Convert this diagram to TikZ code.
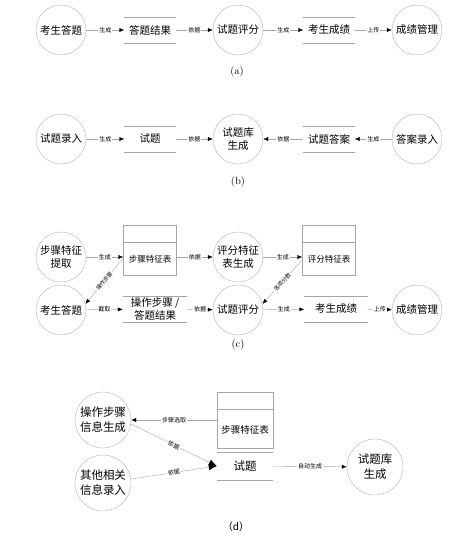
\documentclass[tikz,border=0pt]{standalone}
\usepackage{fontspec}
\newfontfamily\cjk{Noto Sans CJK SC}
\usepackage{tikz}
\usetikzlibrary{arrows.meta}

\begin{document}
\begin{tikzpicture}[x=1pt,y=-1pt]
\tikzset{proc/.style = {shape=circle,draw=gray!60,minimum size=50pt,inner sep=0pt,align=center,
  font=\cjk\fontsize{10.5}{13.5}\selectfont}}
\tikzset{bigproc/.style = {proc,minimum size=56pt,font=\cjk\fontsize{11.5}{15}\selectfont}}
\tikzset{store/.style = {minimum width=51pt,minimum height=26pt,inner sep=0pt,align=center,
  font=\cjk\fontsize{10.5}{13.5}\selectfont,
  append after command={(\tikzlastnode.north west) edge[draw=gray!70] (\tikzlastnode.north east)
    (\tikzlastnode.south west) edge[draw=gray!70] (\tikzlastnode.south east)}}}
\tikzset{tabbox/.style = {shape=rectangle,draw=gray!70,minimum width=53pt,minimum height=50pt,inner sep=0pt}}
\tikzset{tabtext/.style = {font=\cjk\fontsize{8.5}{10}\selectfont}}
\tikzset{edge/.style = {draw=gray!70,-{Latex[black,length=5pt,width=4pt]}}}
\tikzset{bigedge/.style = {draw=gray!70,-{Latex[black,length=8pt,width=6pt]}}}
\tikzset{lbl/.style = {fill=white,inner sep=0.8pt,font=\cjk\fontsize{6}{7}\selectfont}}
\tikzset{caption/.style = {font=\fontsize{10.5}{12}\selectfont}}
\useasboundingbox (0,0) rectangle (474,539);

% (a)
\node[proc] (a1) at (61,30) {考生答题};
\node[store] (a2) at (150,30) {答题结果};
\node[proc] (a3) at (238,30) {试题评分};
\node[store] (a4) at (329,30) {考生成绩};
\node[proc] (a5) at (417,30) {成绩管理};
\node[caption] (ca) at (237,72) {(a)};

\draw[edge] (a1) -- node[lbl] {生成} (a2);
\draw[edge] (a2) -- node[lbl] {依据} (a3);
\draw[edge] (a3) -- node[lbl] {生成} (a4);
\draw[edge] (a4) -- node[lbl] {上传} (a5);

% (b)
\node[proc] (b1) at (61,139) {试题录入};
\node[store] (b2) at (150,139) {试题};
\node[proc] (b3) at (238,139) {试题库\\生成};
\node[store] (b4) at (329,139) {试题答案};
\node[proc] (b5) at (417,139) {答案录入};
\node[caption] (cb) at (238,182) {(b)};

\draw[edge] (b1) -- node[lbl] {生成} (b2);
\draw[edge] (b2) -- node[lbl] {依据} (b3);
\draw[edge] (b4) -- node[lbl] {依据} (b3);
\draw[edge] (b5) -- node[lbl] {生成} (b4);

% (c)
\node[proc] (c1) at (61,257) {步骤特征\\提取};
\node[tabbox] (c2) at (150,250) {};
\node[tabtext] (c2t) at (150,259) {步骤特征表};
\node[proc] (c3) at (238,257) {评分特征\\表生成};
\node[tabbox] (c4) at (329,250) {};
\node[tabtext] (c4t) at (329,259) {评分特征表};
\draw[gray!70] ([yshift=-17pt]c2.north west) -- ([yshift=-17pt]c2.north east);
\draw[gray!70] ([yshift=-17pt]c4.north west) -- ([yshift=-17pt]c4.north east);

\node[proc] (c5) at (61,310) {考生答题};
\node[store,minimum width=64pt] (c6) at (155,309) {操作步骤 /\\答题结果};
\node[proc] (c7) at (238,310) {试题评分};
\node[store,minimum width=63pt] (c8) at (336,309) {考生成绩};
\node[proc] (c9) at (417,310) {成绩管理};
\node[caption] (cc) at (238,345) {(c)};

\draw[edge] (c1) -- node[lbl] {生成} (c1 -| c2.west);
\draw[edge] (c2.east |- c3) -- node[lbl] {依据} (c3);
\draw[edge] (c3) -- node[lbl] {生成} (c3 -| c4.west);
\draw[edge] ([yshift=-8pt]c2.west) -- node[lbl,sloped,font=\cjk\fontsize{5.5}{6}\selectfont] {操作步骤} (c5.14);
\draw[edge] ([yshift=-10pt]c4.west) -- node[lbl,sloped,font=\cjk\fontsize{5.5}{6}\selectfont] {各项分数} (c7.14);
\draw[edge] (c5) -- node[lbl] {截取} (c6);
\draw[edge] (c6) -- node[lbl] {依据} (c7);
\draw[edge] (c7) -- node[lbl] {生成} (c8);
\draw[edge] (c8) -- node[lbl] {上传} (c9);

% (d)
\node[bigproc] (d1) at (103,420) {操作步骤\\信息生成};
\node[bigproc] (d2) at (103,483) {其他相关\\信息录入};
\node[tabbox,minimum width=56pt,minimum height=56pt] (d3) at (245,420) {};
\node[tabtext,font=\cjk\fontsize{9.5}{12}\selectfont] (d3t) at (245,430) {步骤特征表};
\draw[gray!70] ([yshift=-17pt]d3.north west) -- ([yshift=-17pt]d3.north east);
\node[store,minimum width=56pt,minimum height=28pt,font=\cjk\fontsize{11.5}{14}\selectfont] (d4) at (245,466) {试题};
\node[bigproc] (d5) at (375,467) {试题库\\生成};
\node[caption,font=\cjk\fontsize{10}{12}\selectfont] (cd) at (236,527) {（d）};

\draw[edge] (d3) -- node[lbl] {步骤选取} (d1);
\draw[bigedge] (d1.-8) -- node[lbl,sloped] {依据} (d4.west);
\draw[bigedge] (d2.8) -- node[lbl,sloped] {依据} (d4.west);
\draw[edge] (d4) -- node[lbl] {自动生成} (d5);
\end{tikzpicture}
\end{document}
